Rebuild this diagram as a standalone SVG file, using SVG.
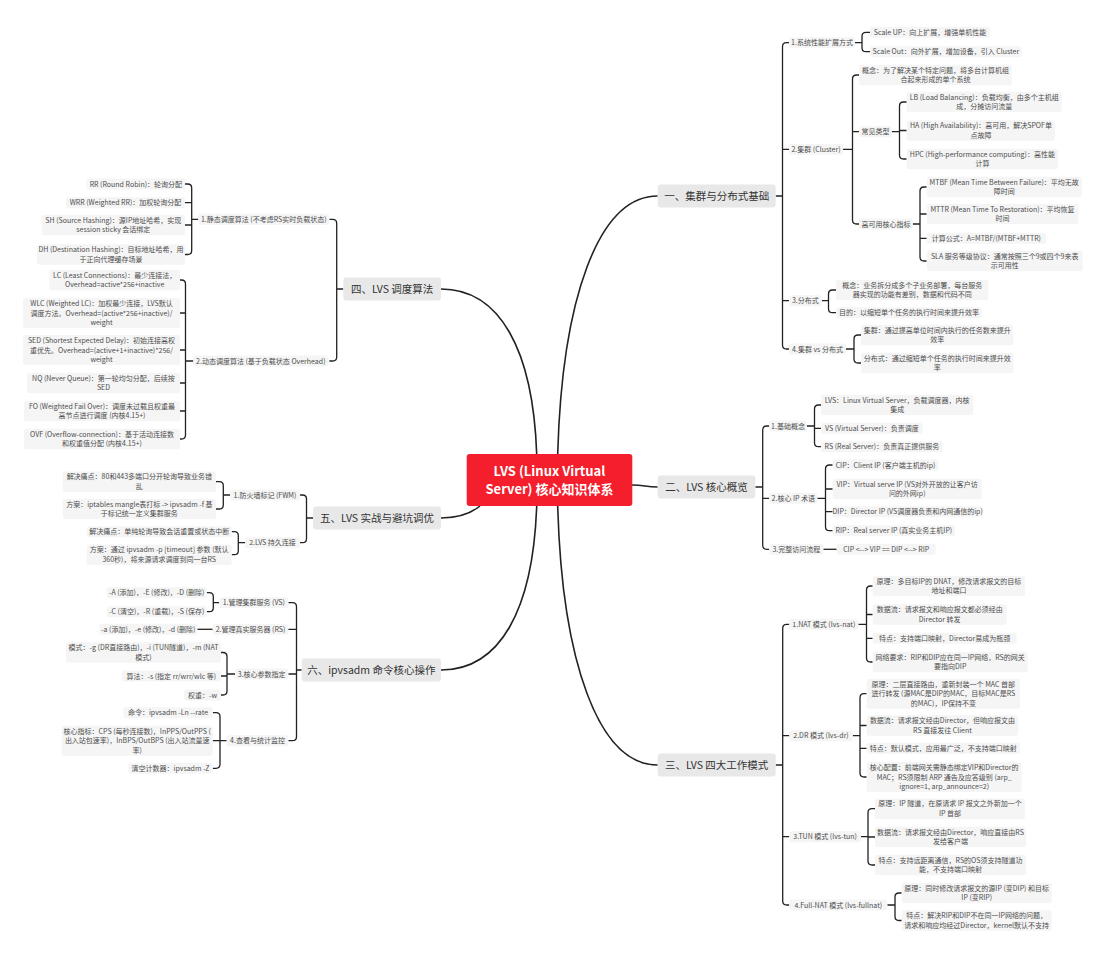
<svg xmlns="http://www.w3.org/2000/svg" width="1108" height="957" viewBox="0 0 1108 957">
<style>
.n rect{fill:#f5f5f5}
.n text{font-family:"Noto Sans CJK SC","Noto Sans",sans-serif;font-size:7px;fill:#4d4d4d;text-anchor:middle}
.l1 rect{fill:#e8e8e8}
.l1 text{font-family:"Noto Sans CJK SC","Noto Sans",sans-serif;font-size:10.5px;fill:#333;text-anchor:middle}
.ctr rect{fill:#f41e2c}
.ctr text{font-family:"Noto Sans CJK SC","Noto Sans",sans-serif;font-size:13px;font-weight:bold;fill:#fff;text-anchor:middle}
.c{fill:none;stroke:#222;stroke-width:1.3}
.m{fill:none;stroke:#222;stroke-width:1.6}
</style>
<rect width="1108" height="957" fill="#fff"/>
<g id="connectors">
<path class="m" d="M557.7,454 C562,300 598,196 657.7,196"/>
<path class="m" d="M632,485 C645,485 645,487 657.7,487"/>
<path class="m" d="M557.7,506 C562,660 598,765 657.7,765"/>
<path class="m" d="M536.7,454 C533,350 500,289 441,289"/>
<path class="m" d="M480,506 Q465,518 441,518"/>
<path class="m" d="M536.7,506 C533,610 500,670 441,670"/>
<path class="c" d="M775.7,196 H782.5 M789,42.7 H786.5 Q782.5,42.7 782.5,46.7 V345 Q782.5,349 786.5,349 H789 M782.5,149.3 H789 M782.5,300.7 H789"/>
<path class="c" d="M855,42.7 H862 M870,32.3 H866 Q862,32.3 862,36.3 V47.7 Q862,51.7 866,51.7 H870"/>
<path class="c" d="M843,149.3 H852.5 M859,75 H856.5 Q852.5,75 852.5,79 V220 Q852.5,224 856.5,224 H859 M852.5,131.7 H859"/>
<path class="c" d="M891.7,131.7 H899.5 M906.7,102 H903.5 Q899.5,102 899.5,106 V155 Q899.5,159 903.5,159 H906.7 M899.5,130.5 H906.7"/>
<path class="c" d="M912.7,224 H920 M926.7,187 H924 Q920,187 920,191 V257 Q920,261 924,261 H926.7 M920,214 H926.7 M920,238.3 H926.7"/>
<path class="c" d="M821.7,300.7 H828.5 M836,290 H832.5 Q828.5,290 828.5,294 V308.7 Q828.5,312.7 832.5,312.7 H836"/>
<path class="c" d="M846,349 H854 M861,335 H858 Q854,335 854,339 V359 Q854,363 858,363 H861"/>
<path class="c" d="M755.3,487 H762.7 M769.3,426 H766.7 Q762.7,426 762.7,430 V545.3 Q762.7,549.3 766.7,549.3 H769.3 M762.7,498.3 H769.3"/>
<path class="c" d="M806.7,426 H814.5 M821,405 H818.5 Q814.5,405 814.5,409 V442.7 Q814.5,446.7 818.5,446.7 H821 M814.5,428.3 H821"/>
<path class="c" d="M817.3,498.3 H825.5 M832.7,465 H829.5 Q825.5,465 825.5,469 V526.7 Q825.5,530.7 829.5,530.7 H832.7 M825.5,489 H832.7 M825.5,511.7 H832.7"/>
<path class="c" d="M823.3,549.3 H836.7"/>
<path class="c" d="M775.7,765 H782.7 M789.3,624.3 H786.7 Q782.7,624.3 782.7,628.3 V901 Q782.7,905 786.7,905 H789.3 M782.7,735.7 H789.3 M782.7,836.7 H789.3"/>
<path class="c" d="M858.3,624.3 H866.5 M872.7,586 H870.5 Q866.5,586 866.5,590 V658 Q866.5,662 870.5,662 H872.7 M866.5,614.5 H872.7 M866.5,638.3 H872.7"/>
<path class="c" d="M852.7,735.7 H860 M866.7,693.7 H864 Q860,693.7 860,697.7 V773 Q860,777 864,777 H866.7 M860,725.5 H866.7 M860,748.3 H866.7"/>
<path class="c" d="M861,836.7 H868 M875,808.7 H872 Q868,808.7 868,812.7 V861 Q868,865 872,865 H875 M868,837 H875"/>
<path class="c" d="M887.3,905 H895 M901.7,893 H899 Q895,893 895,897 V916.5 Q895,920.5 899,920.5 H901.7"/>
<path class="c" d="M343.3,289 H336.7 M329.3,219.3 H332.7 Q336.7,219.3 336.7,223.3 V357 Q336.7,361 332.7,361 H329.3"/>
<path class="c" d="M198.3,219.3 H191.7 M185,184 H187.7 Q191.7,184 191.7,188 V250.5 Q191.7,254.5 187.7,254.5 H185 M191.7,202.7 H185 M191.7,225 H185"/>
<path class="c" d="M193.3,361 H185.5 M180,280 H181.5 Q185.5,280 185.5,284 V435 Q185.5,439 181.5,439 H180 M185.5,313 H180 M185.5,350 H180 M185.5,383 H180 M185.5,411 H180"/>
<path class="c" d="M313,518 H306.5 M300,495 H302.5 Q306.5,495 306.5,499 V538.7 Q306.5,542.7 302.5,542.7 H300"/>
<path class="c" d="M230,495 H223.3 M216,481.7 H219.3 Q223.3,481.7 223.3,485.7 V505 Q223.3,509 219.3,509 H216"/>
<path class="c" d="M245,542.7 H238.3 M231.7,531.7 H234.3 Q238.3,531.7 238.3,535.7 V550.7 Q238.3,554.7 234.3,554.7 H231.7"/>
<path class="c" d="M301.7,670 H296.5 M288.3,602.7 H292.5 Q296.5,602.7 296.5,606.7 V736.7 Q296.5,740.7 292.5,740.7 H288.3 M296.5,629.3 H288.3 M296.5,674 H288.3"/>
<path class="c" d="M219.3,602.7 H213.3 M206.7,592.7 H209.3 Q213.3,592.7 213.3,596.7 V607.7 Q213.3,611.7 209.3,611.7 H206.7"/>
<path class="c" d="M212.7,629.3 H197.3"/>
<path class="c" d="M235,674 H227 M221,652.5 H223 Q227,652.5 227,656.5 V691 Q227,695 223,695 H221 M227,676 H221"/>
<path class="c" d="M226.7,740.7 H220 M212.7,712.7 H216 Q220,712.7 220,716.7 V764.3 Q220,768.3 216,768.3 H212.7 M220,740.7 H212.7"/>
</g>
<g id="center" class="ctr"><rect x="466.7" y="454" width="165.6" height="52" rx="3"/><text x="549.5" y="475.5">LVS (Linux Virtual</text><text x="549.5" y="493.5">Server) 核心知识体系</text></g>
<g id="n1" class="l1"><rect x="657.7" y="184.5" width="118" height="23" rx="3"/><text x="716.7" y="199.7">一、集群与分布式基础</text></g>
<g id="n2" class="l1"><rect x="657.7" y="475.5" width="97.6" height="23" rx="3"/><text x="706.5" y="490.7">二、LVS 核心概览</text></g>
<g id="n3" class="l1"><rect x="657.7" y="753.5" width="118" height="23" rx="3"/><text x="716.7" y="768.7">三、LVS 四大工作模式</text></g>
<g id="n4" class="l1"><rect x="343.3" y="277.5" width="97.7" height="23" rx="3"/><text x="392.2" y="292.7">四、LVS 调度算法</text></g>
<g id="n5" class="l1"><rect x="313" y="506.5" width="128" height="23" rx="3"/><text x="377" y="521.7">五、LVS 实战与避坑调优</text></g>
<g id="n6" class="l1"><rect x="301.7" y="658.5" width="139.3" height="23" rx="3"/><text x="371.3" y="673.7">六、ipvsadm 命令核心操作</text></g>

<g id="a1" class="n"><rect x="789" y="37.2" width="66" height="11" rx="2.5"/><text x="822" y="45.2">1.系统性能扩展方式</text></g>
<g id="a1a" class="n"><rect x="870" y="26.8" width="120" height="11" rx="2.5"/><text x="930" y="34.8">Scale UP：向上扩展，增强单机性能</text></g>
<g id="a1b" class="n"><rect x="870" y="46.2" width="151.7" height="11" rx="2.5"/><text x="945.9" y="54.2">Scale Out：向外扩展，增加设备，引入 Cluster</text></g>
<g id="a2" class="n"><rect x="789" y="143.8" width="54" height="11" rx="2.5"/><text x="816" y="151.8">2.集群 (Cluster)</text></g>
<g id="a2a" class="n"><rect x="859" y="64.75" width="152.7" height="20.5" rx="2.5"/><text><tspan x="935.4" y="72.75">概念：为了解决某个特定问题，将多台计算机组</tspan><tspan x="935.4" y="82.25">合起来形成的单个系统</tspan></text></g>
<g id="a2b" class="n"><rect x="859" y="126.2" width="32.7" height="11" rx="2.5"/><text x="875.4" y="134.2">常见类型</text></g>
<g id="a2b1" class="n"><rect x="906.7" y="91.75" width="155" height="20.5" rx="2.5"/><text><tspan x="984.2" y="99.75">LB (Load Balancing)：负载均衡，由多个主机组</tspan><tspan x="984.2" y="109.25">成，分摊访问流量</tspan></text></g>
<g id="a2b2" class="n"><rect x="906.7" y="120.25" width="148.3" height="20.5" rx="2.5"/><text><tspan x="980.9" y="128.25">HA (High Availability)：高可用，解决SPOF单</tspan><tspan x="980.9" y="137.75">点故障</tspan></text></g>
<g id="a2b3" class="n"><rect x="906.7" y="148.75" width="151.3" height="20.5" rx="2.5"/><text><tspan x="982.4" y="156.75">HPC (High-performance computing)：高性能</tspan><tspan x="982.4" y="166.25">计算</tspan></text></g>
<g id="a2c" class="n"><rect x="859" y="218.5" width="53.7" height="11" rx="2.5"/><text x="885.9" y="226.5">高可用核心指标</text></g>
<g id="a2c1" class="n"><rect x="926.7" y="176.75" width="155" height="20.5" rx="2.5"/><text><tspan x="1004.2" y="184.75">MTBF (Mean Time Between Failure)：平均无故</tspan><tspan x="1004.2" y="194.25">障时间</tspan></text></g>
<g id="a2c2" class="n"><rect x="926.7" y="203.75" width="151.6" height="20.5" rx="2.5"/><text><tspan x="1002.5" y="211.75">MTTR (Mean Time To Restoration)：平均恢复</tspan><tspan x="1002.5" y="221.25">时间</tspan></text></g>
<g id="a2c3" class="n"><rect x="926.7" y="232.8" width="119.3" height="11" rx="2.5"/><text x="986.4" y="240.8">计算公式：A=MTBF/(MTBF+MTTR)</text></g>
<g id="a2c4" class="n"><rect x="926.7" y="250.75" width="156" height="20.5" rx="2.5"/><text><tspan x="1004.7" y="258.75">SLA 服务等级协议：通常按照三个9或四个9来表</tspan><tspan x="1004.7" y="268.25">示可用性</tspan></text></g>
<g id="a3" class="n"><rect x="789" y="295.2" width="32.7" height="11" rx="2.5"/><text x="805.4" y="303.2">3.分布式</text></g>
<g id="a3a" class="n"><rect x="836" y="279.75" width="152.3" height="20.5" rx="2.5"/><text><tspan x="912.2" y="287.75">概念：业务拆分成多个子业务部署，每台服务</tspan><tspan x="912.2" y="297.25">器实现的功能有差别，数据和代码不同</tspan></text></g>
<g id="a3b" class="n"><rect x="836" y="307.2" width="145.7" height="11" rx="2.5"/><text x="908.9" y="315.2">目的：以缩短单个任务的执行时间来提升效率</text></g>
<g id="a4" class="n"><rect x="789" y="343.5" width="57" height="11" rx="2.5"/><text x="817.5" y="351.5">4.集群 vs 分布式</text></g>
<g id="a4a" class="n"><rect x="861" y="324.75" width="152.3" height="20.5" rx="2.5"/><text><tspan x="937.2" y="332.75">集群：通过提高单位时间内执行的任务数来提升</tspan><tspan x="937.2" y="342.25">效率</tspan></text></g>
<g id="a4b" class="n"><rect x="861" y="352.75" width="152.3" height="20.5" rx="2.5"/><text><tspan x="937.2" y="360.75">分布式：通过缩短单个任务的执行时间来提升效</tspan><tspan x="937.2" y="370.25">率</tspan></text></g>

<g id="b1" class="n"><rect x="769.3" y="420.5" width="37.4" height="11" rx="2.5"/><text x="788" y="428.5">1.基础概念</text></g>
<g id="b1a" class="n"><rect x="821" y="394.75" width="152.3" height="20.5" rx="2.5"/><text><tspan x="897.2" y="402.75">LVS：Linux Virtual Server，负载调度器，内核</tspan><tspan x="897.2" y="412.25">集成</tspan></text></g>
<g id="b1b" class="n"><rect x="821" y="422.8" width="101.7" height="11" rx="2.5"/><text x="871.9" y="430.8">VS (Virtual Server)：负责调度</text></g>
<g id="b1c" class="n"><rect x="821" y="441.2" width="121.7" height="11" rx="2.5"/><text x="881.9" y="449.2">RS (Real Server)：负责真正提供服务</text></g>
<g id="b2" class="n"><rect x="769.3" y="492.8" width="48" height="11" rx="2.5"/><text x="793.3" y="500.8">2.核心 IP 术语</text></g>
<g id="b2a" class="n"><rect x="832.7" y="459.5" width="105.6" height="11" rx="2.5"/><text x="885.5" y="467.5">CIP：Client IP (客户端主机的ip)</text></g>
<g id="b2b" class="n"><rect x="832.7" y="478.75" width="149" height="20.5" rx="2.5"/><text><tspan x="907.2" y="486.75">VIP：Virtual serve IP (VS对外开放的让客户访</tspan><tspan x="907.2" y="496.25">问的外网ip)</tspan></text></g>
<g id="b2c" class="n"><rect x="832.7" y="506.2" width="150" height="11" rx="2.5"/><text x="907.7" y="514.2">DIP：Director IP (VS调度器负责和内网通信的ip)</text></g>
<g id="b2d" class="n"><rect x="832.7" y="525.2" width="122.3" height="11" rx="2.5"/><text x="893.9" y="533.2">RIP：Real server IP (真实业务主机IP)</text></g>
<g id="b3" class="n"><rect x="769.3" y="543.8" width="54" height="11" rx="2.5"/><text x="796.3" y="551.8">3.完整访问流程</text></g>
<g id="b3a" class="n"><rect x="836.7" y="543.8" width="99" height="11" rx="2.5"/><text x="886.2" y="551.8">CIP &lt;--&gt; VIP == DIP &lt;--&gt; RIP</text></g>

<g id="c1" class="n"><rect x="789.3" y="618.8" width="69" height="11" rx="2.5"/><text x="823.8" y="626.8">1.NAT 模式 (lvs-nat)</text></g>
<g id="c1a" class="n"><rect x="872.7" y="575.75" width="152.3" height="20.5" rx="2.5"/><text><tspan x="948.9" y="583.75">原理：多目标IP的 DNAT，修改请求报文的目标</tspan><tspan x="948.9" y="593.25">地址和端口</tspan></text></g>
<g id="c1b" class="n"><rect x="872.7" y="604.25" width="134" height="20.5" rx="2.5"/><text><tspan x="939.7" y="612.25">数据流：请求报文和响应报文都必须经由</tspan><tspan x="939.7" y="621.75">Director 转发</tspan></text></g>
<g id="c1c" class="n"><rect x="872.7" y="632.8" width="144" height="11" rx="2.5"/><text x="944.7" y="640.8">特点：支持端口映射，Director易成为瓶颈</text></g>
<g id="c1d" class="n"><rect x="872.7" y="651.75" width="155" height="20.5" rx="2.5"/><text><tspan x="950.2" y="659.75">网络要求：RIP和DIP应在同一IP网络，RS的网关</tspan><tspan x="950.2" y="669.25">要指向DIP</tspan></text></g>
<g id="c2" class="n"><rect x="789.3" y="730.2" width="63.4" height="11" rx="2.5"/><text x="821" y="738.2">2.DR 模式 (lvs-dr)</text></g>
<g id="c2a" class="n"><rect x="866.7" y="678.7" width="153.3" height="30" rx="2.5"/><text><tspan x="943.35" y="686.7">原理：二层直接路由，重新封装一个 MAC 首部</tspan><tspan x="943.35" y="696.2">进行转发 (源MAC是DIP的MAC，目标MAC是RS</tspan><tspan x="943.35" y="705.7">的MAC)，IP保持不变</tspan></text></g>
<g id="c2b" class="n"><rect x="866.7" y="715.25" width="151.6" height="20.5" rx="2.5"/><text><tspan x="942.5" y="723.25">数据流：请求报文经由Director，但响应报文由</tspan><tspan x="942.5" y="732.75">RS 直接发往 Client</tspan></text></g>
<g id="c2c" class="n"><rect x="866.7" y="742.8" width="153.3" height="11" rx="2.5"/><text x="943.35" y="750.8">特点：默认模式，应用最广泛，不支持端口映射</text></g>
<g id="c2d" class="n"><rect x="866.7" y="762" width="155" height="30" rx="2.5"/><text><tspan x="944.2" y="770">核心配置：前端网关需静态绑定VIP和Director的</tspan><tspan x="944.2" y="779.5">MAC；RS须限制 ARP 通告及应答级别 (arp_</tspan><tspan x="944.2" y="789">ignore=1, arp_announce=2)</tspan></text></g>
<g id="c3" class="n"><rect x="789.3" y="831.2" width="71.7" height="11" rx="2.5"/><text x="825.15" y="839.2">3.TUN 模式 (lvs-tun)</text></g>
<g id="c3a" class="n"><rect x="875" y="798.45" width="150" height="20.5" rx="2.5"/><text><tspan x="950" y="806.45">原理：IP 隧道，在原请求 IP 报文之外新加一个</tspan><tspan x="950" y="815.95">IP 首部</tspan></text></g>
<g id="c3b" class="n"><rect x="875" y="826.75" width="151" height="20.5" rx="2.5"/><text><tspan x="950.5" y="834.75">数据流：请求报文经由Director，响应直接由RS</tspan><tspan x="950.5" y="844.25">发给客户端</tspan></text></g>
<g id="c3c" class="n"><rect x="875" y="854.75" width="151" height="20.5" rx="2.5"/><text><tspan x="950.5" y="862.75">特点：支持远距离通信，RS的OS须支持隧道功</tspan><tspan x="950.5" y="872.25">能，不支持端口映射</tspan></text></g>
<g id="c4" class="n"><rect x="789.3" y="899.5" width="98" height="11" rx="2.5"/><text x="838.3" y="907.5">4.Full-NAT 模式 (lvs-fullnat)</text></g>
<g id="c4a" class="n"><rect x="901.7" y="882.75" width="150" height="20.5" rx="2.5"/><text><tspan x="976.7" y="890.75">原理：同时修改请求报文的源IP (变DIP) 和目标</tspan><tspan x="976.7" y="900.25">IP (变RIP)</tspan></text></g>
<g id="c4b" class="n"><rect x="901.7" y="910.25" width="150" height="20.5" rx="2.5"/><text><tspan x="976.7" y="918.25">特点：解决RIP和DIP不在同一IP网络的问题，</tspan><tspan x="976.7" y="927.75">请求和响应均经过Director，kernel默认不支持</tspan></text></g>

<g id="d1" class="n"><rect x="198.3" y="213.8" width="131" height="11" rx="2.5"/><text x="263.8" y="221.8">1.静态调度算法 (不考虑RS实时负载状态)</text></g>
<g id="d1a" class="n"><rect x="86.7" y="178.5" width="98.3" height="11" rx="2.5"/><text x="135.85" y="186.5">RR (Round Robin)：轮询分配</text></g>
<g id="d1b" class="n"><rect x="66" y="197.2" width="119" height="11" rx="2.5"/><text x="125.5" y="205.2">WRR (Weighted RR)：加权轮询分配</text></g>
<g id="d1c" class="n"><rect x="41.7" y="214.75" width="143.3" height="20.5" rx="2.5"/><text><tspan x="113.35" y="222.75">SH (Source Hashing)：源IP地址哈希，实现</tspan><tspan x="113.35" y="232.25">session sticky 会话绑定</tspan></text></g>
<g id="d1d" class="n"><rect x="37" y="244.25" width="148" height="20.5" rx="2.5"/><text><tspan x="111" y="252.25">DH (Destination Hashing)：目标地址哈希，用</tspan><tspan x="111" y="261.75">于正向代理缓存场景</tspan></text></g>
<g id="d2" class="n"><rect x="193.3" y="355.5" width="135" height="11" rx="2.5"/><text x="260.8" y="363.5">2.动态调度算法 (基于负载状态 Overhead)</text></g>
<g id="d2a" class="n"><rect x="49.3" y="269.75" width="130.7" height="20.5" rx="2.5"/><text><tspan x="114.65" y="277.75">LC (Least Connections)：最少连接法，</tspan><tspan x="114.65" y="287.25">Overhead=active*256+inactive</tspan></text></g>
<g id="d2b" class="n"><rect x="23" y="298" width="157" height="30" rx="2.5"/><text><tspan x="101.5" y="306">WLC (Weighted LC)：加权最少连接，LVS默认</tspan><tspan x="101.5" y="315.5">调度方法。Overhead=(active*256+inactive)/</tspan><tspan x="101.5" y="325">weight</tspan></text></g>
<g id="d2c" class="n"><rect x="23" y="335" width="157" height="30" rx="2.5"/><text><tspan x="101.5" y="343">SED (Shortest Expected Delay)：初始连接高权</tspan><tspan x="101.5" y="352.5">重优先。Overhead=(active+1+inactive)*256/</tspan><tspan x="101.5" y="362">weight</tspan></text></g>
<g id="d2d" class="n"><rect x="27" y="372.75" width="153" height="20.5" rx="2.5"/><text><tspan x="103.5" y="380.75">NQ (Never Queue)：第一轮均匀分配，后续按</tspan><tspan x="103.5" y="390.25">SED</tspan></text></g>
<g id="d2e" class="n"><rect x="24" y="400.75" width="156" height="20.5" rx="2.5"/><text><tspan x="102" y="408.75">FO (Weighted Fail Over)：调度未过载且权重最</tspan><tspan x="102" y="418.25">高节点进行调度 (内核4.15+)</tspan></text></g>
<g id="d2f" class="n"><rect x="24" y="428.75" width="156" height="20.5" rx="2.5"/><text><tspan x="102" y="436.75">OVF (Overflow-connection)：基于活动连接数</tspan><tspan x="102" y="446.25">和权重值分配 (内核4.15+)</tspan></text></g>

<g id="e1" class="n"><rect x="230" y="489.5" width="70" height="11" rx="2.5"/><text x="265" y="497.5">1.防火墙标记 (FWM)</text></g>
<g id="e1a" class="n"><rect x="62.7" y="471.45" width="153.3" height="20.5" rx="2.5"/><text><tspan x="139.35" y="479.45">解决痛点：80和443多端口分开轮询导致业务错</tspan><tspan x="139.35" y="488.95">乱</tspan></text></g>
<g id="e1b" class="n"><rect x="62.7" y="498.75" width="153.3" height="20.5" rx="2.5"/><text><tspan x="139.35" y="506.75">方案：iptables mangle表打标 -&gt; ipvsadm -f 基</tspan><tspan x="139.35" y="516.25">于标记统一定义集群服务</tspan></text></g>
<g id="e2" class="n"><rect x="245" y="537.2" width="55" height="11" rx="2.5"/><text x="272.5" y="545.2">2.LVS 持久连接</text></g>
<g id="e2a" class="n"><rect x="86.7" y="526.2" width="145" height="11" rx="2.5"/><text x="159.2" y="534.2">解决痛点：单纯轮询导致会话重置或状态中断</text></g>
<g id="e2b" class="n"><rect x="86.7" y="544.45" width="145" height="20.5" rx="2.5"/><text><tspan x="159.2" y="552.45">方案：通过 ipvsadm -p [timeout] 参数 (默认</tspan><tspan x="159.2" y="561.95">360秒)，将来源请求调度到同一台RS</tspan></text></g>

<g id="f1" class="n"><rect x="219.3" y="597.2" width="69" height="11" rx="2.5"/><text x="253.8" y="605.2">1.管理集群服务 (VS)</text></g>
<g id="f1a" class="n"><rect x="106.7" y="587.2" width="100" height="11" rx="2.5"/><text x="156.7" y="595.2">-A (添加)，-E (修改)，-D (删除)</text></g>
<g id="f1b" class="n"><rect x="106.7" y="606.2" width="100" height="11" rx="2.5"/><text x="156.7" y="614.2">-C (清空)，-R (重载)，-S (保存)</text></g>
<g id="f2" class="n"><rect x="212.7" y="623.8" width="75.6" height="11" rx="2.5"/><text x="250.5" y="631.8">2.管理真实服务器 (RS)</text></g>
<g id="f2a" class="n"><rect x="99.3" y="623.8" width="98" height="11" rx="2.5"/><text x="148.3" y="631.8">-a (添加)，-e (修改)，-d (删除)</text></g>
<g id="f3" class="n"><rect x="235" y="668.5" width="53.3" height="11" rx="2.5"/><text x="261.65" y="676.5">3.核心参数指定</text></g>
<g id="f3a" class="n"><rect x="66" y="642.25" width="155" height="20.5" rx="2.5"/><text><tspan x="143.5" y="650.25">模式：-g (DR直接路由)，-i (TUN隧道)，-m (NAT</tspan><tspan x="143.5" y="659.75">模式)</tspan></text></g>
<g id="f3b" class="n"><rect x="121.7" y="670.5" width="99.3" height="11" rx="2.5"/><text x="171.35" y="678.5">算法：-s (指定 rr/wrr/wlc 等)</text></g>
<g id="f3c" class="n"><rect x="184" y="689.5" width="37" height="11" rx="2.5"/><text x="202.5" y="697.5">权重：-w</text></g>
<g id="f4" class="n"><rect x="226.7" y="735.2" width="61.6" height="11" rx="2.5"/><text x="257.5" y="743.2">4.查看与统计监控</text></g>
<g id="f4a" class="n"><rect x="123.3" y="707.2" width="89.4" height="11" rx="2.5"/><text x="168" y="715.2">命令：ipvsadm -Ln --rate</text></g>
<g id="f4b" class="n"><rect x="61.7" y="725.7" width="151" height="30" rx="2.5"/><text><tspan x="137.2" y="733.7">核心指标：CPS (每秒连接数)，InPPS/OutPPS (</tspan><tspan x="137.2" y="743.2">出入站包速率)，InBPS/OutBPS (出入站流量速</tspan><tspan x="137.2" y="752.7">率)</tspan></text></g>
<g id="f4c" class="n"><rect x="128.3" y="762.8" width="84.4" height="11" rx="2.5"/><text x="170.5" y="770.8">清空计数器：ipvsadm -Z</text></g>
</svg>
